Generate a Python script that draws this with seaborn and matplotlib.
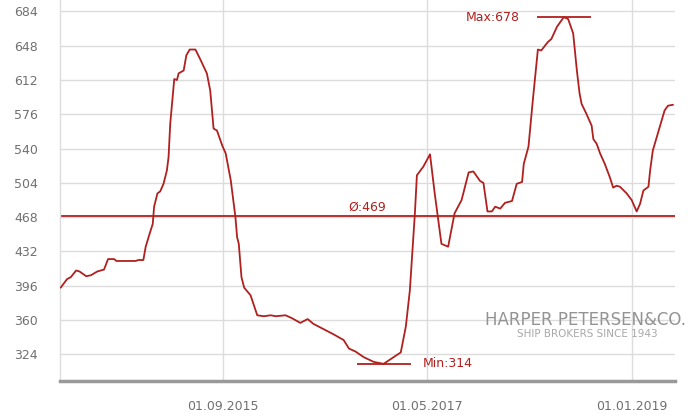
import matplotlib
matplotlib.use("Agg")
import matplotlib.pyplot as plt
import matplotlib.dates as mdates
import seaborn as sns
import pandas as pd

# index values
dates = [
    "2014-05-07", "2014-05-26", "2014-06-06", "2014-06-22", "2014-07-02", "2014-07-22",
    "2014-08-05", "2014-08-24", "2014-09-13", "2014-09-25", "2014-10-13", "2014-10-20",
    "2014-12-16", "2014-12-24", "2015-01-08", "2015-01-15", "2015-01-27", "2015-02-05",
    "2015-02-09", "2015-02-19", "2015-02-27", "2015-03-09", "2015-03-19", "2015-03-24",
    "2015-03-29", "2015-04-10", "2015-04-18", "2015-04-23", "2015-05-08", "2015-05-16",
    "2015-05-26", "2015-06-12", "2015-06-26", "2015-07-16", "2015-07-26", "2015-08-05",
    "2015-08-15", "2015-08-31", "2015-09-10", "2015-09-25", "2015-10-09", "2015-10-14",
    "2015-10-19", "2015-10-27", "2015-11-04", "2015-11-23", "2015-12-13", "2016-01-02",
    "2016-01-22", "2016-02-06", "2016-03-06", "2016-03-25", "2016-04-19", "2016-05-11",
    "2016-05-28", "2016-07-27", "2016-08-26", "2016-09-11", "2016-09-30", "2016-10-25",
    "2016-11-24", "2016-12-23", "2017-01-13", "2017-02-12", "2017-02-27", "2017-03-11",
    "2017-03-26", "2017-04-01", "2017-04-20", "2017-05-10", "2017-05-24", "2017-06-13",
    "2017-07-03", "2017-07-22", "2017-08-12", "2017-09-02", "2017-09-16", "2017-10-06",
    "2017-10-16", "2017-10-28", "2017-11-10", "2017-11-20", "2017-12-05", "2017-12-19",
    "2018-01-09", "2018-01-23", "2018-02-08", "2018-02-13", "2018-02-27", "2018-03-12",
    "2018-03-27", "2018-04-06", "2018-04-26", "2018-05-06", "2018-05-23", "2018-06-12",
    "2018-06-25", "2018-07-10", "2018-07-21", "2018-07-29", "2018-08-04", "2018-08-19",
    "2018-09-03", "2018-09-08", "2018-09-18", "2018-09-28", "2018-10-12", "2018-10-27",
    "2018-11-06", "2018-11-16", "2018-11-26", "2018-12-16", "2018-12-31", "2019-01-15",
    "2019-01-25", "2019-02-04", "2019-02-19", "2019-02-24", "2019-03-04", "2019-03-19",
    "2019-03-29", "2019-04-08", "2019-04-18", "2019-05-03",
]
values = [
    394, 403, 405, 412, 411, 406,
    407, 411, 413, 424, 424, 422,
    422, 423, 423, 437, 451, 461,
    479, 493, 495, 503, 517, 531,
    566, 613, 612, 619, 622, 638,
    644, 644, 634, 619, 601, 561,
    559, 543, 535, 507, 468, 447,
    440, 405, 394, 386, 365, 364,
    365, 364, 365, 362, 357, 361,
    356, 345, 339, 330, 327, 321,
    316, 314, 319, 326, 353, 391,
    472, 512, 521, 534, 493, 440,
    437, 472, 486, 515, 516, 506,
    504, 474, 474, 479, 477, 483,
    485, 503, 505, 524, 542, 591,
    644, 643, 652, 655, 668, 678,
    676, 661, 622, 598, 587, 576,
    564, 550, 545, 535, 524, 510,
    499, 501, 500, 493, 486, 474,
    482, 496, 500, 517, 538, 556,
    568, 580, 585, 586,
]
avg_value = 469

y_ticks = [324, 360, 396, 432, 468, 504, 540, 576, 612, 648, 684]
x_ticks = ["2015-09-01", "2017-05-01", "2019-01-01"]

red = "#b0201e"
grey_text = "#707070"
grid_col = "#dcdcdc"

df = pd.DataFrame({"date": pd.to_datetime(dates), "value": values})

sns.set_style("white")
plt.rcParams["font.family"] = ["DejaVu Sans"]

fig = plt.figure(figsize=(6.88, 4.16), dpi=100)
ax = fig.add_axes([60 / 688, 35 / 416, 615 / 688, 381 / 416])

for t in y_ticks:
    ax.axhline(t, color=grid_col, lw=1, zorder=0)
for t in x_ticks:
    ax.axvline(pd.Timestamp(t), color=grid_col, lw=1, zorder=0)

sns.lineplot(data=df, x="date", y="value", ax=ax, color=red, lw=1.3, zorder=3)

# average line
ax.axhline(avg_value, color=red, lw=1.3, zorder=2)
ax.annotate(f"Ø:{avg_value}", xy=(0.5, avg_value), xycoords=("axes fraction", "data"),
            xytext=(0, 2), textcoords="offset points", ha="center", va="bottom",
            color=red, fontsize=9)

# min / max markers
i_min = df["value"].idxmin()
i_max = df["value"].idxmax()
half = pd.Timedelta(days=80)
for i, label, dx, ha in [(i_min, "Min", 28, "left"), (i_max, "Max", -32, "right")]:
    d, v = df.loc[i, "date"], df.loc[i, "value"]
    ax.hlines(v, d - half, d + half, color=red, lw=1.3, zorder=4)
    ax.annotate(f"{label}:{v}", xy=(d, v), xytext=(dx, 0), textcoords="offset points",
                ha=ha, va="center", color=red, fontsize=9)

# watermark
ax.text(1.018, 0.16, "HARPER PETERSEN&CO.", transform=ax.transAxes, ha="right",
        va="center", color="#939393", fontsize=12, zorder=1, clip_on=False)
ax.text(0.972, 0.124, "SHIP BROKERS SINCE 1943", transform=ax.transAxes, ha="right",
        va="center", color="#a8a8a8", fontsize=7.5, zorder=1)

ax.set_xlim(pd.Timestamp("2014-05-05"), pd.Timestamp("2019-05-09"))
ax.set_ylim(296, 696)
ax.set_yticks(y_ticks)
ax.set_xticks([pd.Timestamp(t) for t in x_ticks])
ax.xaxis.set_major_formatter(mdates.DateFormatter("%d.%m.%Y"))
ax.tick_params(axis="y", length=0, pad=16, labelsize=9, labelcolor=grey_text)
ax.tick_params(axis="x", length=6, width=1, color=grid_col, pad=8, labelsize=9,
               labelcolor=grey_text, direction="out")
ax.set_xlabel("")
ax.set_ylabel("")

for s in ["top", "right"]:
    ax.spines[s].set_visible(False)
ax.spines["left"].set_color(grid_col)
ax.spines["left"].set_linewidth(1)
ax.spines["bottom"].set_color("#999999")
ax.spines["bottom"].set_linewidth(2.5)

fig.savefig("out.png", dpi=100)
